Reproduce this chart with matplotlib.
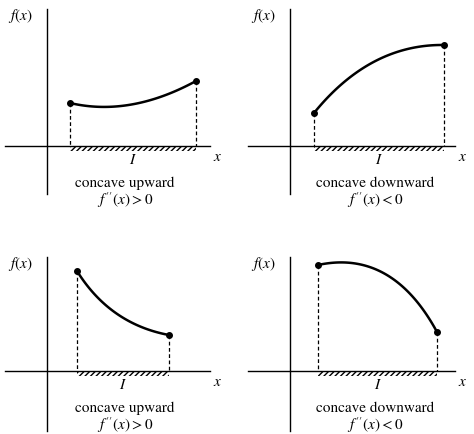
import matplotlib.pyplot as plt
import numpy as np
from matplotlib.patches import Rectangle

plt.rcParams['mathtext.fontset'] = 'stix'
plt.rcParams['font.family'] = 'STIXGeneral'

# panel frames in pixel coords: y-axis x, x-axis y, top of y axis, x-axis left, right
yaxis_x = [47, 290, 47, 290]
xaxis_y = [147, 147, 372, 372]
yaxis_top = [10, 10, 258, 258]
xaxis_left = [5, 248, 5, 248]
xaxis_right = [210, 455, 210, 455]
# curve: start, control, end (quadratic bezier)
starts = [(70, 104), (314, 114), (77, 272), (318, 266)]
ctrls = [(130, 118), (370, 45), (110, 325), (392, 250)]
ends = [(196, 82), (444, 46), (169, 336), (437, 333)]
titles = ['concave upward', 'concave downward', 'concave upward', 'concave downward']
signs = ['>', '<', '>', '<']

fig = plt.figure(figsize=(4.74, 4.35), dpi=100)
ax = fig.add_axes([0, 0, 1, 1])
ax.set_xlim(0, 474)
ax.set_ylim(435, 0)
ax.axis('off')

t = np.linspace(0, 1, 100)
for i in range(4):
    ax0, ay0 = yaxis_x[i], xaxis_y[i]
    ax.plot([ax0, ax0], [yaxis_top[i], 195 if i < 2 else 432], color='black', lw=1)
    ax.plot([xaxis_left[i], xaxis_right[i]], [ay0, ay0], color='black', lw=1)
    p0, c, p2 = np.array(starts[i]), np.array(ctrls[i]), np.array(ends[i])
    pts = ((1 - t)[:, None] ** 2) * p0 + (2 * (1 - t) * t)[:, None] * c + (t ** 2)[:, None] * p2
    ax.plot(pts[:, 0], pts[:, 1], color='black', lw=1.8)
    ax.plot([p0[0], p2[0]], [p0[1], p2[1]], 'o', color='black', ms=4)
    for px, py in (p0, p2):
        ax.plot([px, px], [py, ay0], color='black', lw=0.9, ls=(0, (3, 2)))
    ax.add_patch(Rectangle((p0[0], ay0), p2[0] - p0[0], 5, fill=False, hatch='//////',
                           lw=0, color='black'))
    mid = (p0[0] + p2[0]) / 2
    ax.text(mid, ay0 + 13, '$I$', ha='center', va='center', fontsize=11)
    ax.text(xaxis_right[i] + 3, ay0 + 10, '$x$', ha='left', va='center', fontsize=11)
    ax.text(ax0 - 39, yaxis_top[i] + 6, '$f(x)$', ha='left', va='center', fontsize=11)
    cx = 125 if i % 2 == 0 else 375
    ax.text(cx, ay0 + 36, titles[i], ha='center', va='center', fontsize=11)
    ax.text(cx, ay0 + 53, r"$f\,''(x) %s 0$" % signs[i], ha='center', va='center', fontsize=11)

fig.savefig('out.png', dpi=100)
